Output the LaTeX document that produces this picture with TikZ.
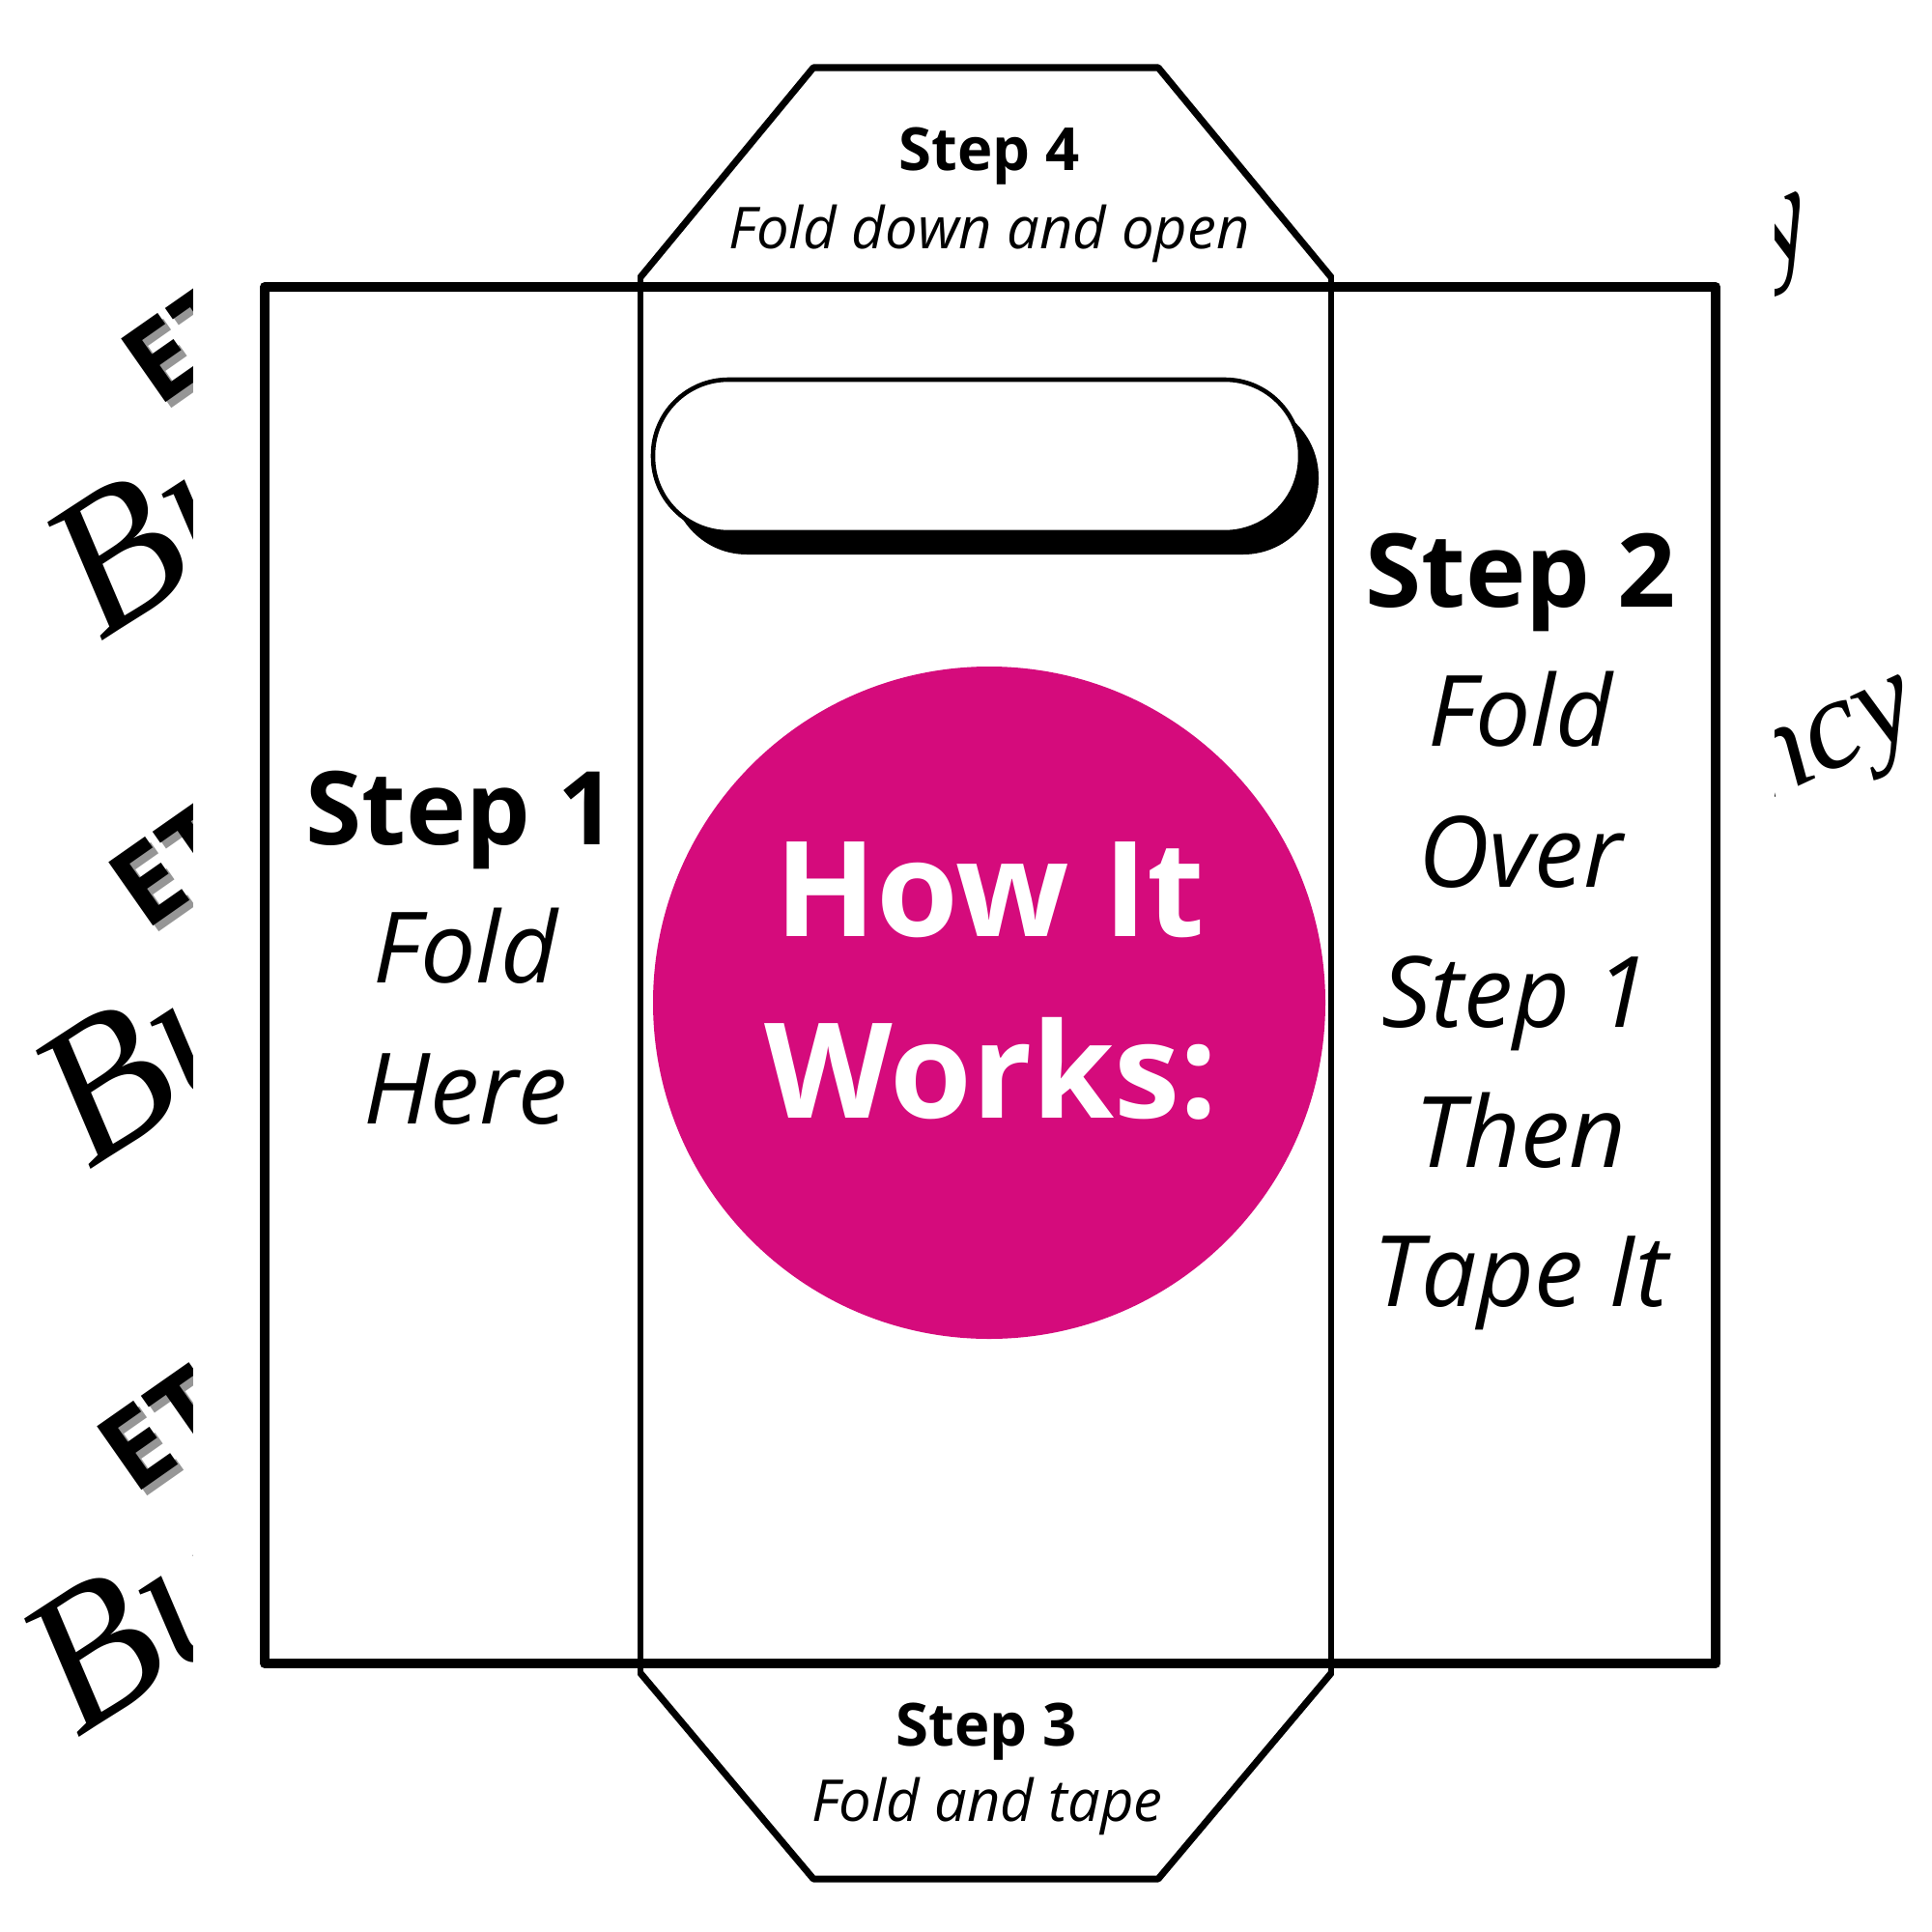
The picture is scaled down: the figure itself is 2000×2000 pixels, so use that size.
\documentclass[tikz,border=0pt]{standalone}
\usepackage{fontspec}
\usetikzlibrary{calc}
\setmainfont{Open Sans}
\newfontfamily\wmscript{Liberation Serif}
\definecolor{howpink}{RGB}{213,11,124}
\definecolor{wmgrey}{RGB}{150,150,150}
\tikzset{
  lbl/.style={anchor=base, inner sep=0pt, text=black},
  smallbold/.style={lbl, font=\bfseries\fontsize{17.5pt}{20pt}\selectfont},
  smallital/.style={lbl, font=\itshape\fontsize{17pt}{20pt}\selectfont},
  bigbold/.style={lbl, font=\bfseries\fontsize{30pt}{34pt}\selectfont},
  bigital/.style={lbl, font=\itshape\fontsize{29pt}{34pt}\selectfont},
  hugewhite/.style={anchor=base, inner sep=0pt, text=white, font=\bfseries\fontsize{39pt}{45pt}\selectfont},
  wmbold/.style={anchor=base west, rotate=35, inner sep=0pt, font=\bfseries\fontsize{32pt}{32pt}\selectfont},
  wmscriptbig/.style={anchor=base west, rotate=33, inner sep=0pt, font=\wmscript\itshape\fontsize{58pt}{58pt}\selectfont},
  wmscriptsmall/.style={anchor=base east, rotate=25, inner sep=0pt, font=\wmscript\itshape\fontsize{38pt}{38pt}\selectfont},
  thickline/.style={line width=2.85pt, line join=round, line cap=round},
  foldline/.style={line width=1.7pt},
  flapline/.style={line width=2pt, line join=round},
}
\begin{document}
\begin{tikzpicture}[x=0.01cm, y=-0.01cm]
\useasboundingbox (0,0) rectangle (2000,2000);
\fill[white] (0,0) rectangle (2000,2000);

% ---------- watermark fragments (under the white sheet) ----------
\foreach \px/\py [count=\i] in {163/423, 150/965, 138/1549}{
  \node[wmbold, text=wmgrey] (wmets\i) at (\px+6,\py+6) {ET};
  \node[wmbold, text=black] (wmet\i) at (\px,\py) {ET};
}
\foreach \px/\py [count=\i] in {104/665, 92/1212, 80/1800}{
  \node[wmscriptbig, text=black] (wmbu\i) at (\px,\py) {Bu};
}
\node[wmscriptsmall, text=black] (wmr1) at (1887,253) {y};
\node[wmscriptsmall, text=black] (wmr2) at (1993,753) {ncy};

% white sheet covering the watermark
\fill[white] (200,0) rectangle (1837,2000);

% ---------- flaps ----------
\draw[flapline] (663,287) -- (842,70) -- (1199,70) -- (1378,287);
\draw[flapline] (663,1732) -- (842,1945) -- (1199,1945) -- (1378,1732);

% ---------- main sheet ----------
\draw[thickline] (274,297) rectangle (1776,1722);
\draw[foldline] (663,285) -- (663,1734);
\draw[foldline] (1378,285) -- (1378,1734);

% ---------- window with shadow ----------
\fill[black, rounded corners=0.78cm] (695,416) rectangle (1365,574);
\draw[line width=1.3pt, fill=white, rounded corners=0.78cm] (676,393) rectangle (1346,551);

% ---------- circle ----------
\fill[howpink] (1024,1038) circle[radius=348];
\node[hugewhite] (how) at (1025,969) {How It};
\node[hugewhite] (works) at (1026,1157) {Works:};

% ---------- texts ----------
\node[smallbold] (s4) at (1024,176) {Step 4};
\node[smallital] (s4t) at (1024,258) {Fold down and open};
\node[smallbold] (s3) at (1021,1807) {Step 3};
\node[smallital] (s3t) at (1022,1885) {Fold and tape};

\node[bigbold] (s1) at (477,874) {Step 1};
\node[bigital] (s1a) at (482,1017) {Fold};
\node[bigital] (s1b) at (482,1163) {Here};

\node[bigbold] (s2) at (1574,628) {Step 2};
\node[bigital] (s2a) at (1574,772) {Fold};
\node[bigital] (s2b) at (1574,918) {Over};
\node[bigital] (s2c) at (1569,1063) {Step 1};
\node[bigital] (s2d) at (1574,1208) {Then};
\node[bigital] (s2e) at (1574,1352) {Tape It};
\end{tikzpicture}
\end{document}
